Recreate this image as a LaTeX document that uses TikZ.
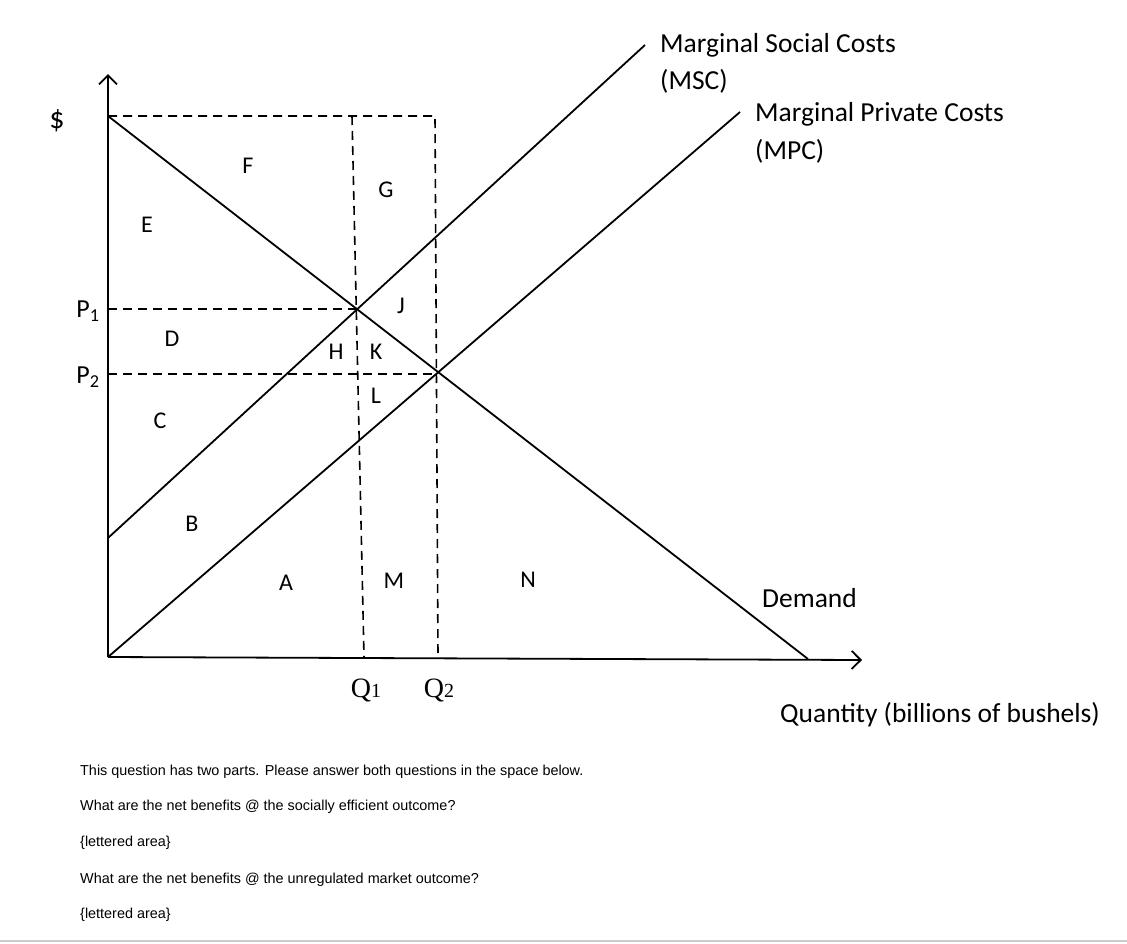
\documentclass[tikz,border=0pt]{standalone}
\usetikzlibrary{arrows.meta}
\usepackage{fontspec}
\setmainfont{Carlito}
\newfontfamily\arialf{Liberation Sans}
\newfontfamily\timesf{Liberation Serif}
\begin{document}
\begin{tikzpicture}[x=1pt,y=-1pt,
  lbl/.style={font=\fontsize{24}{28}\selectfont,inner sep=0pt},
  big/.style={font=\fontsize{27.5}{32}\selectfont,inner sep=0pt,anchor=west},
  txt/.style={font=\arialf\fontsize{14.4}{17}\selectfont,inner sep=0pt,anchor=west},
  curve/.style={line width=1.8pt},
  dsh/.style={line width=1.6pt,dash pattern=on 9pt off 6pt}]
\useasboundingbox (0,0) rectangle (1127,943);
\draw[black!20,line width=1.5pt] (0,941) -- (1127,941);
% axes
\coordinate (O) at (108,657);
\coordinate (ytop) at (108,74);
\coordinate (xend) at (862,660);
\draw[curve,->,>={Straight Barb[length=9pt,width=18pt]}] (O) -- (ytop);
\draw[curve,->,>={Straight Barb[length=9pt,width=18pt]}] (O) -- (xend);
% curves
\coordinate (d1) at (108,116); \coordinate (d2) at (808,659);
\coordinate (s1) at (108,538); \coordinate (s2) at (645,45);
\coordinate (p1) at (108,657); \coordinate (p2) at (740,112);
\draw[curve] (d1) -- (d2);
\draw[curve] (s1) -- (s2);
\draw[curve] (p1) -- (p2);
% dashed
\coordinate (tr) at (435,116); \coordinate (br) at (438,657);
\coordinate (q1t) at (352,116); \coordinate (q1b) at (364,657);
\coordinate (P1a) at (108,309); \coordinate (P1b) at (357,309);
\coordinate (P2a) at (108,374); \coordinate (P2b) at (437,374);
\draw[dsh] (d1) -- (tr) -- (br);
\draw[dsh] (q1t) -- (q1b);
\draw[dsh] (P1a) -- (P1b);
\draw[dsh] (P2a) -- (P2b);
% labels
\node[lbl,font=\fontsize{30}{34}\selectfont] (dol) at (57,121) {\$};
\node[lbl,font=\fontsize{26}{30}\selectfont] (lp1) at (88,311) {P\textsubscript{1}};
\node[lbl,font=\fontsize{26}{30}\selectfont] (lp2) at (88,377) {P\textsubscript{2}};
\node[lbl] (E) at (147,225) {E};
\node[lbl] (F) at (248,166) {F};
\node[lbl] (G) at (386,190) {G};
\node[lbl] (J) at (401,306) {J};
\node[lbl] (D) at (172,339) {D};
\node[lbl] (H) at (336,352) {H};
\node[lbl] (K) at (376,352) {K};
\node[lbl] (L) at (376,396) {L};
\node[lbl] (C) at (160,421) {C};
\node[lbl] (B) at (192,524) {B};
\node[lbl] (A) at (286,583) {A};
\node[lbl] (M) at (394,581) {M};
\node[lbl] (N) at (528,580) {N};
\node[lbl,font=\timesf\fontsize{28}{32}\selectfont] (Q1) at (366,690) {Q\fontsize{20}{24}\selectfont 1};
\node[lbl,font=\timesf\fontsize{28}{32}\selectfont] (Q2) at (439,690) {Q\fontsize{20}{24}\selectfont 2};
\node[big] (dem) at (762,598) {Demand};
\node[big] (qty) at (780,715) {Quantity (billions of bushels)};
\node[big] (msc1) at (660,45) {Marginal Social Costs};
\node[big] (msc2) at (660,81) {(MSC)};
\node[big] (mpc1) at (755,114) {Marginal Private Costs};
\node[big] (mpc2) at (755,151) {(MPC)};
\node[txt] (t1) at (80,772) {This question has two parts. Please answer both questions in the space below.};
\node[txt] (t2) at (80,807) {What are the net benefits @ the socially efficient outcome?};
\node[txt] (t3) at (80,843) {\{lettered area\}};
\node[txt] (t4) at (80,880) {What are the net benefits @ the unregulated market outcome?};
\node[txt] (t5) at (80,915) {\{lettered area\}};
\end{tikzpicture}
\end{document}
